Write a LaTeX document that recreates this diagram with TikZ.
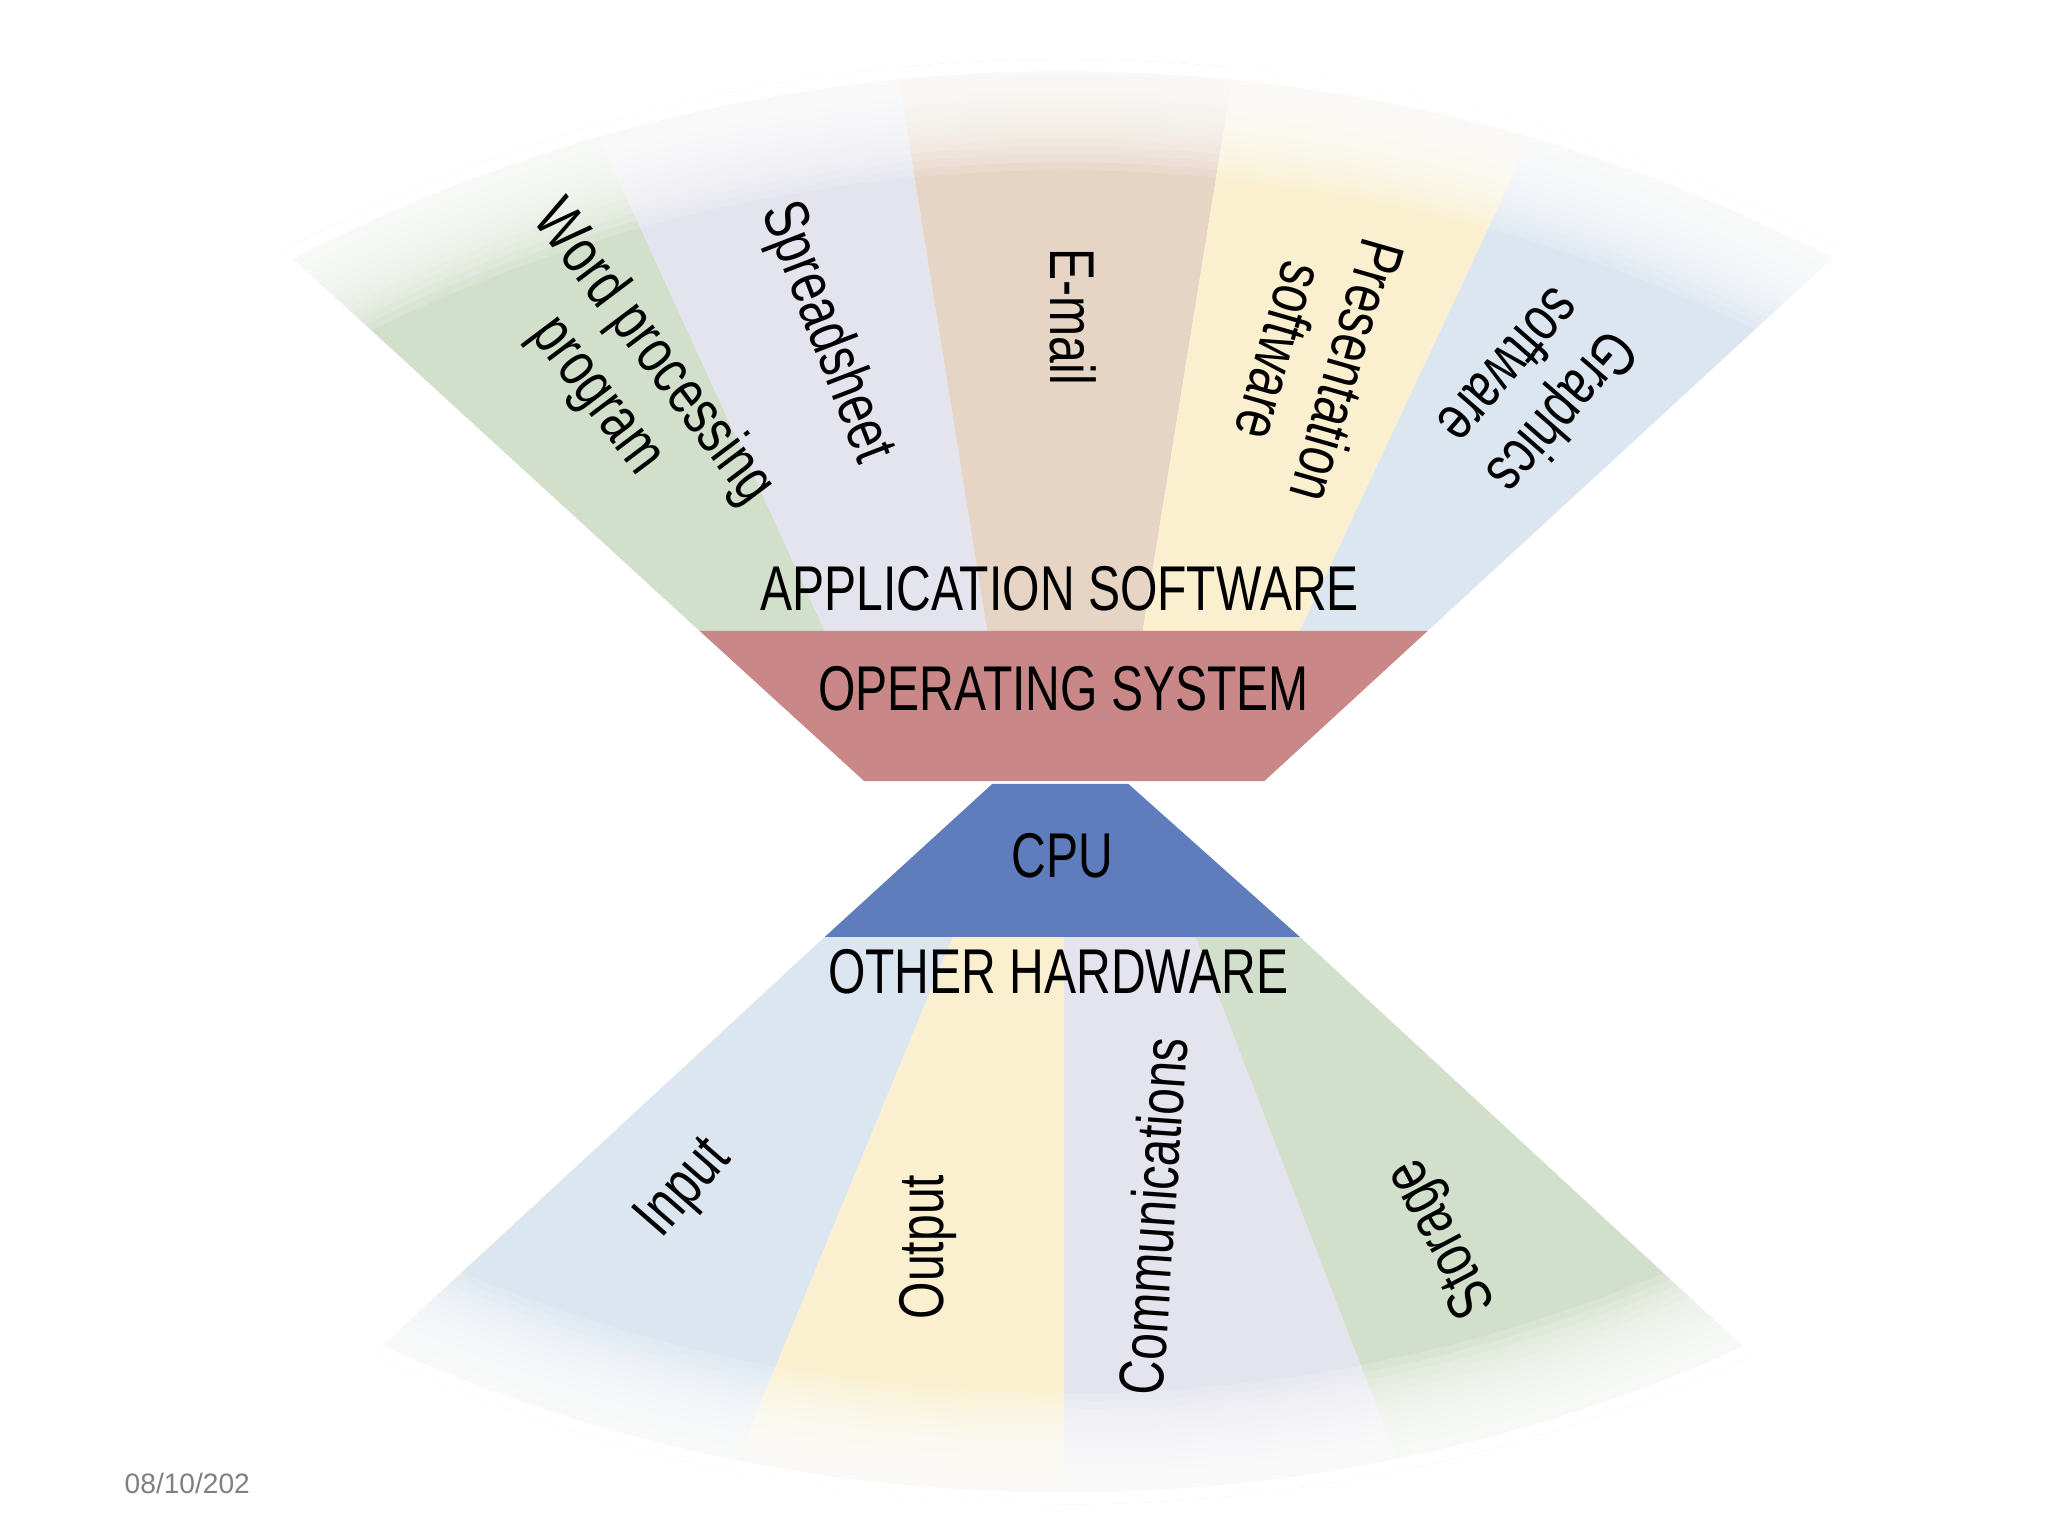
\documentclass[tikz,border=0pt]{standalone}
\usepackage{fontspec}
\setmainfont{Liberation Sans}
\usepackage{graphicx}
\newcommand{\nar}[1]{\scalebox{0.76}[1]{\begin{tabular}{@{}c@{}}#1\end{tabular}}}
\definecolor{cgreen}{HTML}{D2E0CB}
\definecolor{clav}{HTML}{E4E4EE}
\definecolor{ctan}{HTML}{E6D4C4}
\definecolor{cyel}{HTML}{FAF0CF}
\definecolor{cblue}{HTML}{DCE6F0}
\definecolor{cos}{HTML}{C98787}
\definecolor{ccpu}{HTML}{5F7DBC}
\begin{document}
\begin{tikzpicture}[x=0.0132cm,y=-0.0132cm,
  lbl/.style={font=\fontsize{18}{20}\selectfont,inner sep=0pt}]
\useasboundingbox (0,0) rectangle (1552,1164);
\fill[white] (0,0) rectangle (1552,1164);
% upper fan
\begin{scope}
\clip (806,1322) circle (1277);
\fill[cgreen] (530,478) -- (150,130) -- (420,30) -- (625,478) -- cycle;
\fill[clav] (625,478) -- (420,30) -- (670,-10) -- (748,478) -- cycle;
\fill[ctan] (748,478) -- (670,-10) -- (945,-10) -- (866,478) -- cycle;
\fill[cyel] (866,478) -- (945,-10) -- (1195,30) -- (985,478) -- cycle;
\fill[cblue] (985,478) -- (1195,30) -- (1460,130) -- (1082,478) -- cycle;
\foreach \r in {0,6,...,84}
  \fill[white,opacity=0.16,even odd rule] (806,1322) circle (1290) (806,1322) circle (1277-\r);
\fill[white,even odd rule] (806,1322) circle (1290) (806,1322) circle (1268);
\end{scope}
% lower fan
\begin{scope}
\clip (806,-120) circle (1260);
\fill[cblue] (625,710) -- (230,1075) -- (520,1200) -- (722,710) -- cycle;
\fill[cyel] (722,710) -- (520,1200) -- (806,1220) -- (806,710) -- cycle;
\fill[clav] (806,710) -- (806,1220) -- (1095,1200) -- (906,710) -- cycle;
\fill[cgreen] (906,710) -- (1095,1200) -- (1380,1075) -- (985,710) -- cycle;
\foreach \r in {0,6,...,84}
  \fill[white,opacity=0.16,even odd rule] (806,-120) circle (1275) (806,-120) circle (1260-\r);
\fill[white,even odd rule] (806,-120) circle (1275) (806,-120) circle (1251);
\end{scope}
% cores
\fill[cos] (530,478) -- (1082,478) -- (958,592) -- (655,592) -- cycle;
\fill[ccpu] (752,594) -- (855,594) -- (985,710) -- (625,710) -- cycle;
% labels
\node[lbl] (app) at (803,452) {\nar{APPLICATION SOFTWARE}};
\node[lbl] (os) at (806,528) {\nar{OPERATING SYSTEM}};
\node[lbl] (cpu) at (805,654) {\nar{CPU}};
\node[lbl] (hw) at (802,742) {\nar{OTHER HARDWARE}};
\node[lbl,rotate=-53] (wp) at (472,285) {\nar{Word processing\\program}};
\node[lbl,rotate=-69] (ss) at (624,253) {\nar{Spreadsheet}};
\node[lbl,rotate=-90] (em) at (807,240) {\nar{E-mail}};
\node[lbl,rotate=-106] (pr) at (990,272) {\nar{Presentation\\software}};
\node[lbl,rotate=-131] (gr) at (1160,292) {\nar{Graphics\\software}};
\node[lbl,rotate=49] (in) at (520,902) {\nar{Input}};
\node[lbl,rotate=90] (out) at (704,945) {\nar{Output}};
\node[lbl,rotate=86] (com) at (880,922) {\nar{Communications}};
\node[lbl,rotate=118] (st) at (1095,937) {\nar{Storage}};
\node[font=\fontsize{8}{10}\selectfont,text=gray,anchor=west,inner sep=0pt] (date) at (94,1124) {08/10/202};
\end{tikzpicture}
\end{document}
